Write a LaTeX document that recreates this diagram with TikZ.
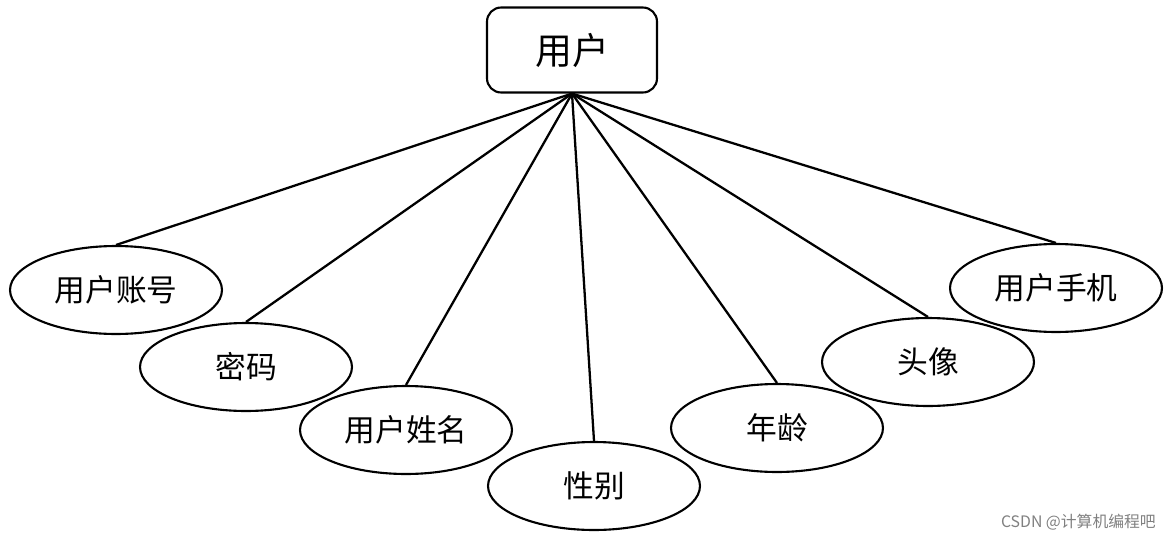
\documentclass[tikz,border=0pt]{standalone}
\usepackage{fontspec}
\newfontfamily\cjk{Noto Sans CJK SC}
\usetikzlibrary{shapes.geometric}
\begin{document}
\begin{tikzpicture}[x=0.02cm,y=-0.02cm,
 attr/.style={ellipse,draw,line width=1.2pt,minimum width=4.24cm,minimum height=1.76cm,inner sep=0pt,font=\cjk\fontsize{17.5}{20}\selectfont},
 ent/.style={draw,line width=1.2pt,rounded corners=8pt,minimum width=3.4cm,minimum height=1.7cm,font=\cjk\fontsize{21}{24}\selectfont},
 link/.style={line width=1.3pt}]
\useasboundingbox (0,0) rectangle (1173,541);
\node[ent] (u) at (572,50) {用户};
\node[attr] (a1) at (116,290) {用户账号};
\node[attr] (a2) at (246,367) {密码};
\node[attr] (a3) at (406,430) {用户姓名};
\node[attr] (a4) at (594,486) {性别};
\node[attr] (a5) at (777,428) {年龄};
\node[attr] (a6) at (928,362) {头像};
\node[attr] (a7) at (1056,288) {用户手机};
\foreach \n in {a1,a2,a3,a4,a5,a6,a7} \draw[link] (u.south) -- (\n.north);
\node[font=\cjk\fontsize{9}{11}\selectfont,text=gray,anchor=east] (wm) at (1162,522) {CSDN @计算机编程吧};
\end{tikzpicture}
\end{document}
